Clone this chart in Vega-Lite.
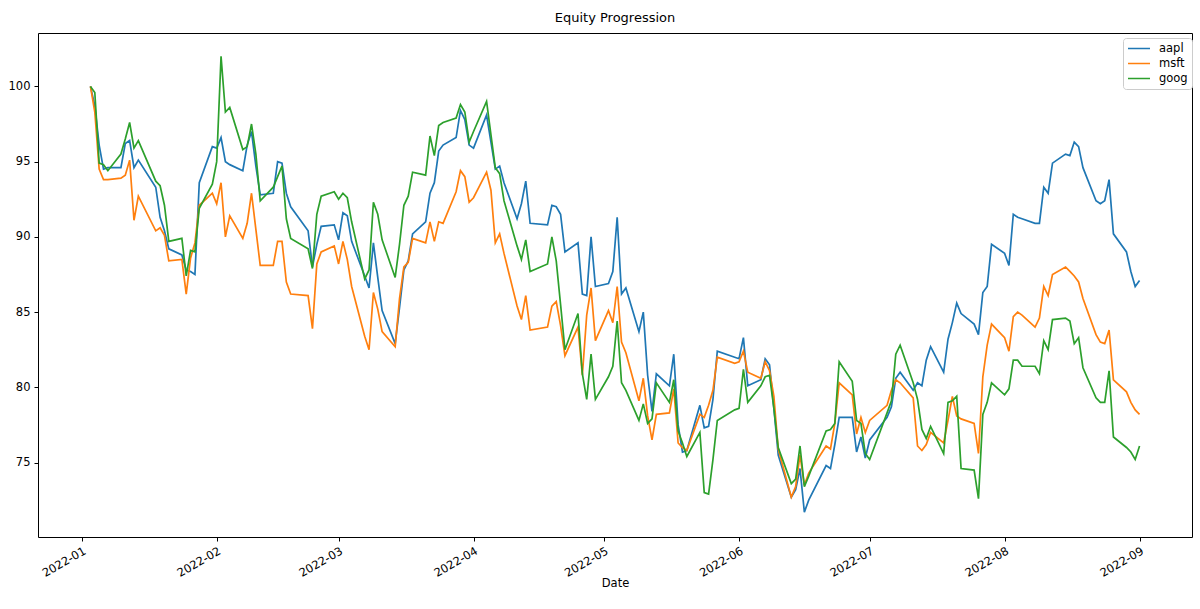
{
  "$schema": "https://vega.github.io/schema/vega-lite/v6.json",
  "width": 1154,
  "height": 504,
  "autosize": {"type": "none"},
  "padding": {"left": 38, "top": 33, "right": 8, "bottom": 72},
  "background": "white",
  "title": {"text": "Equity Progression", "font": "DejaVu Sans", "fontSize": 13, "fontWeight": "normal", "color": "#000", "anchor": "middle", "offset": 8},
  "data": {
    "values": [
      {"date": "2022-01-03", "aapl": 100, "msft": 100, "goog": 100},
      {"date": "2022-01-04", "aapl": 98.7, "msft": 98.3, "goog": 99.6},
      {"date": "2022-01-05", "aapl": 96.1, "msft": 94.5, "goog": 94.9},
      {"date": "2022-01-06", "aapl": 94.5, "msft": 93.8, "goog": 94.8},
      {"date": "2022-01-07", "aapl": 94.6, "msft": 93.8, "goog": 94.4},
      {"date": "2022-01-10", "aapl": 94.6, "msft": 93.9, "goog": 95.5},
      {"date": "2022-01-11", "aapl": 96.2, "msft": 94.1, "goog": 96.5},
      {"date": "2022-01-12", "aapl": 96.4, "msft": 95.1, "goog": 97.6},
      {"date": "2022-01-13", "aapl": 94.6, "msft": 91.1, "goog": 95.9},
      {"date": "2022-01-14", "aapl": 95.1, "msft": 92.7, "goog": 96.4},
      {"date": "2022-01-18", "aapl": 93.3, "msft": 90.4, "goog": 93.7},
      {"date": "2022-01-19", "aapl": 91.3, "msft": 90.6, "goog": 93.4},
      {"date": "2022-01-20", "aapl": 90.4, "msft": 90.1, "goog": 92.1},
      {"date": "2022-01-21", "aapl": 89.2, "msft": 88.4, "goog": 89.7},
      {"date": "2022-01-24", "aapl": 88.8, "msft": 88.5, "goog": 89.9},
      {"date": "2022-01-25", "aapl": 87.8, "msft": 86.2, "goog": 87.4},
      {"date": "2022-01-26", "aapl": 87.7, "msft": 88.6, "goog": 89.1},
      {"date": "2022-01-27", "aapl": 87.5, "msft": 89.6, "goog": 89.0},
      {"date": "2022-01-28", "aapl": 93.6, "msft": 92.1, "goog": 91.9},
      {"date": "2022-01-31", "aapl": 96.0, "msft": 92.9, "goog": 93.5},
      {"date": "2022-02-01", "aapl": 95.9, "msft": 92.2, "goog": 95.0},
      {"date": "2022-02-02", "aapl": 96.6, "msft": 93.6, "goog": 102.0},
      {"date": "2022-02-03", "aapl": 95.0, "msft": 90.0, "goog": 98.3},
      {"date": "2022-02-04", "aapl": 94.8, "msft": 91.4, "goog": 98.6},
      {"date": "2022-02-07", "aapl": 94.4, "msft": 89.9, "goog": 95.8},
      {"date": "2022-02-08", "aapl": 96.1, "msft": 90.9, "goog": 96.0},
      {"date": "2022-02-09", "aapl": 97.0, "msft": 92.9, "goog": 97.5},
      {"date": "2022-02-10", "aapl": 94.7, "msft": 90.5, "goog": 95.5},
      {"date": "2022-02-11", "aapl": 92.8, "msft": 88.1, "goog": 92.4},
      {"date": "2022-02-14", "aapl": 92.9, "msft": 88.1, "goog": 93.3},
      {"date": "2022-02-15", "aapl": 95.0, "msft": 89.7, "goog": 94.0},
      {"date": "2022-02-16", "aapl": 94.9, "msft": 89.7, "goog": 94.7},
      {"date": "2022-02-17", "aapl": 92.9, "msft": 87.0, "goog": 91.2},
      {"date": "2022-02-18", "aapl": 92.0, "msft": 86.2, "goog": 89.9},
      {"date": "2022-02-22", "aapl": 90.4, "msft": 86.1, "goog": 89.2},
      {"date": "2022-02-23", "aapl": 88.0, "msft": 83.9, "goog": 87.9},
      {"date": "2022-02-24", "aapl": 89.5, "msft": 88.2, "goog": 91.5},
      {"date": "2022-02-25", "aapl": 90.7, "msft": 89.0, "goog": 92.7},
      {"date": "2022-02-28", "aapl": 90.8, "msft": 89.4, "goog": 93.0},
      {"date": "2022-03-01", "aapl": 89.8, "msft": 88.2, "goog": 92.5},
      {"date": "2022-03-02", "aapl": 91.6, "msft": 89.7, "goog": 92.9},
      {"date": "2022-03-03", "aapl": 91.4, "msft": 88.5, "goog": 92.6},
      {"date": "2022-03-04", "aapl": 89.7, "msft": 86.7, "goog": 91.0},
      {"date": "2022-03-07", "aapl": 87.4, "msft": 83.4, "goog": 87.2},
      {"date": "2022-03-08", "aapl": 86.6, "msft": 82.5, "goog": 87.8},
      {"date": "2022-03-09", "aapl": 89.6, "msft": 86.3, "goog": 92.3},
      {"date": "2022-03-10", "aapl": 87.3, "msft": 85.2, "goog": 91.5},
      {"date": "2022-03-11", "aapl": 85.1, "msft": 83.7, "goog": 89.8},
      {"date": "2022-03-14", "aapl": 82.9, "msft": 82.7, "goog": 87.3},
      {"date": "2022-03-15", "aapl": 85.3, "msft": 85.9, "goog": 89.5},
      {"date": "2022-03-16", "aapl": 87.8, "msft": 88.0, "goog": 92.1},
      {"date": "2022-03-17", "aapl": 88.4, "msft": 88.3, "goog": 92.7},
      {"date": "2022-03-18", "aapl": 90.2, "msft": 89.9, "goog": 94.3},
      {"date": "2022-03-21", "aapl": 91.0, "msft": 89.6, "goog": 94.1},
      {"date": "2022-03-22", "aapl": 92.9, "msft": 91.0, "goog": 96.7},
      {"date": "2022-03-23", "aapl": 93.6, "msft": 89.7, "goog": 95.4},
      {"date": "2022-03-24", "aapl": 95.7, "msft": 91.0, "goog": 97.4},
      {"date": "2022-03-25", "aapl": 96.1, "msft": 90.9, "goog": 97.6},
      {"date": "2022-03-28", "aapl": 96.6, "msft": 93.0, "goog": 97.9},
      {"date": "2022-03-29", "aapl": 98.4, "msft": 94.4, "goog": 98.8},
      {"date": "2022-03-30", "aapl": 97.8, "msft": 94.0, "goog": 98.3},
      {"date": "2022-03-31", "aapl": 96.1, "msft": 92.3, "goog": 96.3},
      {"date": "2022-04-01", "aapl": 95.9, "msft": 92.6, "goog": 97.0},
      {"date": "2022-04-04", "aapl": 98.1, "msft": 94.3, "goog": 99.0},
      {"date": "2022-04-05", "aapl": 96.3, "msft": 93.1, "goog": 96.8},
      {"date": "2022-04-06", "aapl": 94.5, "msft": 89.6, "goog": 94.6},
      {"date": "2022-04-07", "aapl": 94.7, "msft": 90.2, "goog": 94.2},
      {"date": "2022-04-08", "aapl": 93.6, "msft": 88.9, "goog": 92.4},
      {"date": "2022-04-11", "aapl": 91.2, "msft": 85.4, "goog": 89.4},
      {"date": "2022-04-12", "aapl": 92.2, "msft": 84.5, "goog": 88.5},
      {"date": "2022-04-13", "aapl": 93.7, "msft": 86.1, "goog": 89.8},
      {"date": "2022-04-14", "aapl": 90.9, "msft": 83.8, "goog": 87.7},
      {"date": "2022-04-18", "aapl": 90.8, "msft": 84.0, "goog": 88.2},
      {"date": "2022-04-19", "aapl": 92.1, "msft": 85.4, "goog": 90.0},
      {"date": "2022-04-20", "aapl": 92.0, "msft": 85.7, "goog": 88.4},
      {"date": "2022-04-21", "aapl": 91.5, "msft": 84.1, "goog": 85.5},
      {"date": "2022-04-22", "aapl": 89.0, "msft": 82.1, "goog": 82.5},
      {"date": "2022-04-25", "aapl": 89.6, "msft": 84.0, "goog": 84.9},
      {"date": "2022-04-26", "aapl": 86.2, "msft": 80.8, "goog": 80.9},
      {"date": "2022-04-27", "aapl": 86.1, "msft": 84.8, "goog": 79.2},
      {"date": "2022-04-28", "aapl": 90.0, "msft": 86.6, "goog": 82.2},
      {"date": "2022-04-29", "aapl": 86.7, "msft": 83.1, "goog": 79.2},
      {"date": "2022-05-02", "aapl": 86.9, "msft": 85.1, "goog": 80.7},
      {"date": "2022-05-03", "aapl": 87.7, "msft": 84.3, "goog": 81.4},
      {"date": "2022-05-04", "aapl": 91.3, "msft": 86.7, "goog": 84.4},
      {"date": "2022-05-05", "aapl": 86.2, "msft": 83.0, "goog": 80.3},
      {"date": "2022-05-06", "aapl": 86.6, "msft": 82.3, "goog": 79.8},
      {"date": "2022-05-09", "aapl": 83.7, "msft": 79.1, "goog": 77.8},
      {"date": "2022-05-10", "aapl": 85.0, "msft": 80.6, "goog": 78.9},
      {"date": "2022-05-11", "aapl": 80.8, "msft": 78.1, "goog": 77.6},
      {"date": "2022-05-12", "aapl": 78.4, "msft": 76.5, "goog": 77.9},
      {"date": "2022-05-13", "aapl": 80.9, "msft": 78.2, "goog": 80.3},
      {"date": "2022-05-16", "aapl": 80.1, "msft": 78.3, "goog": 79.0},
      {"date": "2022-05-17", "aapl": 82.2, "msft": 79.9, "goog": 80.5},
      {"date": "2022-05-18", "aapl": 77.5, "msft": 76.3, "goog": 77.1},
      {"date": "2022-05-19", "aapl": 75.7, "msft": 76.0, "goog": 76.3},
      {"date": "2022-05-20", "aapl": 75.8, "msft": 75.8, "goog": 75.4},
      {"date": "2022-05-23", "aapl": 78.8, "msft": 78.2, "goog": 77.0},
      {"date": "2022-05-24", "aapl": 77.3, "msft": 78.0, "goog": 73.0},
      {"date": "2022-05-25", "aapl": 77.4, "msft": 78.8, "goog": 72.9},
      {"date": "2022-05-26", "aapl": 79.2, "msft": 79.8, "goog": 75.2},
      {"date": "2022-05-27", "aapl": 82.4, "msft": 82.0, "goog": 77.8},
      {"date": "2022-05-31", "aapl": 82.0, "msft": 81.6, "goog": 78.5},
      {"date": "2022-06-01", "aapl": 81.9, "msft": 81.7, "goog": 78.6},
      {"date": "2022-06-02", "aapl": 83.3, "msft": 82.4, "goog": 81.2},
      {"date": "2022-06-03", "aapl": 80.1, "msft": 81.0, "goog": 79.0},
      {"date": "2022-06-06", "aapl": 80.5, "msft": 80.6, "goog": 80.1},
      {"date": "2022-06-07", "aapl": 81.9, "msft": 81.7, "goog": 80.7},
      {"date": "2022-06-08", "aapl": 81.5, "msft": 81.1, "goog": 80.8},
      {"date": "2022-06-09", "aapl": 78.6, "msft": 79.4, "goog": 78.6},
      {"date": "2022-06-10", "aapl": 75.5, "msft": 75.9, "goog": 76.0},
      {"date": "2022-06-13", "aapl": 72.7, "msft": 72.7, "goog": 73.6},
      {"date": "2022-06-14", "aapl": 73.2, "msft": 73.4, "goog": 73.9},
      {"date": "2022-06-15", "aapl": 74.6, "msft": 75.5, "goog": 76.1},
      {"date": "2022-06-16", "aapl": 71.7, "msft": 73.5, "goog": 73.4},
      {"date": "2022-06-17", "aapl": 72.5, "msft": 74.3, "goog": 74.1},
      {"date": "2022-06-21", "aapl": 74.8, "msft": 76.1, "goog": 77.1},
      {"date": "2022-06-22", "aapl": 74.6, "msft": 75.9, "goog": 77.2},
      {"date": "2022-06-23", "aapl": 76.2, "msft": 77.6, "goog": 77.6},
      {"date": "2022-06-24", "aapl": 78.0, "msft": 80.3, "goog": 81.7},
      {"date": "2022-06-27", "aapl": 78.0, "msft": 79.5, "goog": 80.4},
      {"date": "2022-06-28", "aapl": 75.7, "msft": 76.9, "goog": 77.8},
      {"date": "2022-06-29", "aapl": 76.7, "msft": 78.0, "goog": 77.6},
      {"date": "2022-06-30", "aapl": 75.3, "msft": 77.0, "goog": 75.6},
      {"date": "2022-07-01", "aapl": 76.5, "msft": 77.8, "goog": 75.2},
      {"date": "2022-07-05", "aapl": 78.0, "msft": 78.8, "goog": 78.3},
      {"date": "2022-07-06", "aapl": 78.7, "msft": 79.8, "goog": 79.1},
      {"date": "2022-07-07", "aapl": 80.6, "msft": 80.5, "goog": 82.2},
      {"date": "2022-07-08", "aapl": 81.0, "msft": 80.3, "goog": 82.8},
      {"date": "2022-07-11", "aapl": 79.8, "msft": 79.3, "goog": 80.3},
      {"date": "2022-07-12", "aapl": 80.3, "msft": 76.1, "goog": 79.2},
      {"date": "2022-07-13", "aapl": 80.1, "msft": 75.8, "goog": 77.2},
      {"date": "2022-07-14", "aapl": 81.8, "msft": 76.2, "goog": 76.6},
      {"date": "2022-07-15", "aapl": 82.7, "msft": 77.0, "goog": 77.4},
      {"date": "2022-07-18", "aapl": 81.0, "msft": 76.3, "goog": 75.6},
      {"date": "2022-07-19", "aapl": 83.2, "msft": 77.8, "goog": 79.0},
      {"date": "2022-07-20", "aapl": 84.3, "msft": 79.4, "goog": 79.1},
      {"date": "2022-07-21", "aapl": 85.6, "msft": 78.1, "goog": 79.4},
      {"date": "2022-07-22", "aapl": 84.9, "msft": 77.9, "goog": 74.6},
      {"date": "2022-07-25", "aapl": 84.2, "msft": 77.6, "goog": 74.5},
      {"date": "2022-07-26", "aapl": 83.5, "msft": 75.6, "goog": 72.6},
      {"date": "2022-07-27", "aapl": 86.3, "msft": 80.7, "goog": 78.2},
      {"date": "2022-07-28", "aapl": 86.7, "msft": 82.8, "goog": 79.0},
      {"date": "2022-07-29", "aapl": 89.5, "msft": 84.2, "goog": 80.3},
      {"date": "2022-08-01", "aapl": 88.9, "msft": 83.3, "goog": 79.5},
      {"date": "2022-08-02", "aapl": 88.1, "msft": 82.4, "goog": 79.9},
      {"date": "2022-08-03", "aapl": 91.5, "msft": 84.7, "goog": 81.8},
      {"date": "2022-08-04", "aapl": 91.3, "msft": 85.0, "goog": 81.8},
      {"date": "2022-08-05", "aapl": 91.2, "msft": 84.8, "goog": 81.4},
      {"date": "2022-08-08", "aapl": 90.9, "msft": 84.0, "goog": 81.4},
      {"date": "2022-08-09", "aapl": 90.9, "msft": 84.6, "goog": 80.9},
      {"date": "2022-08-10", "aapl": 93.3, "msft": 86.7, "goog": 83.1},
      {"date": "2022-08-11", "aapl": 92.9, "msft": 86.1, "goog": 82.5},
      {"date": "2022-08-12", "aapl": 94.9, "msft": 87.5, "goog": 84.5},
      {"date": "2022-08-15", "aapl": 95.5, "msft": 88.0, "goog": 84.6},
      {"date": "2022-08-16", "aapl": 95.4, "msft": 87.7, "goog": 84.4},
      {"date": "2022-08-17", "aapl": 96.3, "msft": 87.4, "goog": 82.9},
      {"date": "2022-08-18", "aapl": 96.0, "msft": 87.0, "goog": 83.3},
      {"date": "2022-08-19", "aapl": 94.6, "msft": 85.9, "goog": 81.3},
      {"date": "2022-08-22", "aapl": 92.4, "msft": 83.5, "goog": 79.3},
      {"date": "2022-08-23", "aapl": 92.2, "msft": 83.0, "goog": 79.0},
      {"date": "2022-08-24", "aapl": 92.4, "msft": 82.9, "goog": 79.0},
      {"date": "2022-08-25", "aapl": 93.8, "msft": 83.8, "goog": 81.1},
      {"date": "2022-08-26", "aapl": 90.2, "msft": 80.5, "goog": 76.7},
      {"date": "2022-08-29", "aapl": 89.0, "msft": 79.7, "goog": 76.0},
      {"date": "2022-08-30", "aapl": 87.7, "msft": 79.0, "goog": 75.7},
      {"date": "2022-08-31", "aapl": 86.7, "msft": 78.5, "goog": 75.2},
      {"date": "2022-09-01", "aapl": 87.1, "msft": 78.2, "goog": 76.1}
    ]
  },
  "transform": [
    {"fold": ["aapl", "msft", "goog"], "as": ["ticker", "value"]}
  ],
  "mark": {"type": "line", "strokeWidth": 1.7, "clip": true},
  "encoding": {
    "x": {
      "field": "date",
      "type": "temporal",
      "scale": {
        "type": "utc",
        "domain": [
          {"year": 2021, "month": 12, "date": 21, "hours": 22, "minutes": 48, "utc": true},
          {"year": 2022, "month": 9, "date": 13, "hours": 1, "minutes": 12, "utc": true}
        ]
      },
      "axis": {
        "title": "Date",
        "values": [
          {"year": 2022, "month": 1, "date": 1, "utc": true},
          {"year": 2022, "month": 2, "date": 1, "utc": true},
          {"year": 2022, "month": 3, "date": 1, "utc": true},
          {"year": 2022, "month": 4, "date": 1, "utc": true},
          {"year": 2022, "month": 5, "date": 1, "utc": true},
          {"year": 2022, "month": 6, "date": 1, "utc": true},
          {"year": 2022, "month": 7, "date": 1, "utc": true},
          {"year": 2022, "month": 8, "date": 1, "utc": true},
          {"year": 2022, "month": 9, "date": 1, "utc": true}
        ],
        "labelExpr": "utcFormat(datum.value, '%Y-%m')",
        "labelAngle": -30,
        "labelAlign": "right",
        "labelBaseline": "top",
        "labelPadding": 4,
        "titleY": 40,
        "titleBaseline": "top"
      }
    },
    "y": {
      "field": "value",
      "type": "quantitative",
      "scale": {"domain": [70.05, 103.55], "nice": false, "zero": false},
      "axis": {"title": null, "values": [75, 80, 85, 90, 95, 100], "labelPadding": 4}
    },
    "color": {
      "field": "ticker",
      "type": "nominal",
      "scale": {"domain": ["aapl", "msft", "goog"], "range": ["#1f77b4", "#ff7f0e", "#2ca02c"]},
      "legend": {
        "title": null,
        "orient": "none",
        "legendX": 1085,
        "legendY": 5,
        "symbolType": "stroke",
        "symbolSize": 484,
        "symbolStrokeWidth": 1.7,
        "clipHeight": 13,
        "labelFont": "DejaVu Sans",
        "labelFontSize": 11.5,
        "labelColor": "#000",
        "labelOffset": 8,
        "rowPadding": 2,
        "padding": 4,
        "fillColor": "#ffffff",
        "strokeColor": "#cccccc",
        "cornerRadius": 3
      }
    }
  },
  "config": {
    "view": {"stroke": "#000", "strokeWidth": 1},
    "axis": {
      "grid": false,
      "domain": false,
      "ticks": true,
      "tickColor": "#000",
      "tickSize": 4,
      "labelFont": "DejaVu Sans",
      "labelFontSize": 11.5,
      "labelColor": "#000",
      "titleFont": "DejaVu Sans",
      "titleFontSize": 11.5,
      "titleFontWeight": "normal",
      "titleColor": "#000"
    }
  }
}
